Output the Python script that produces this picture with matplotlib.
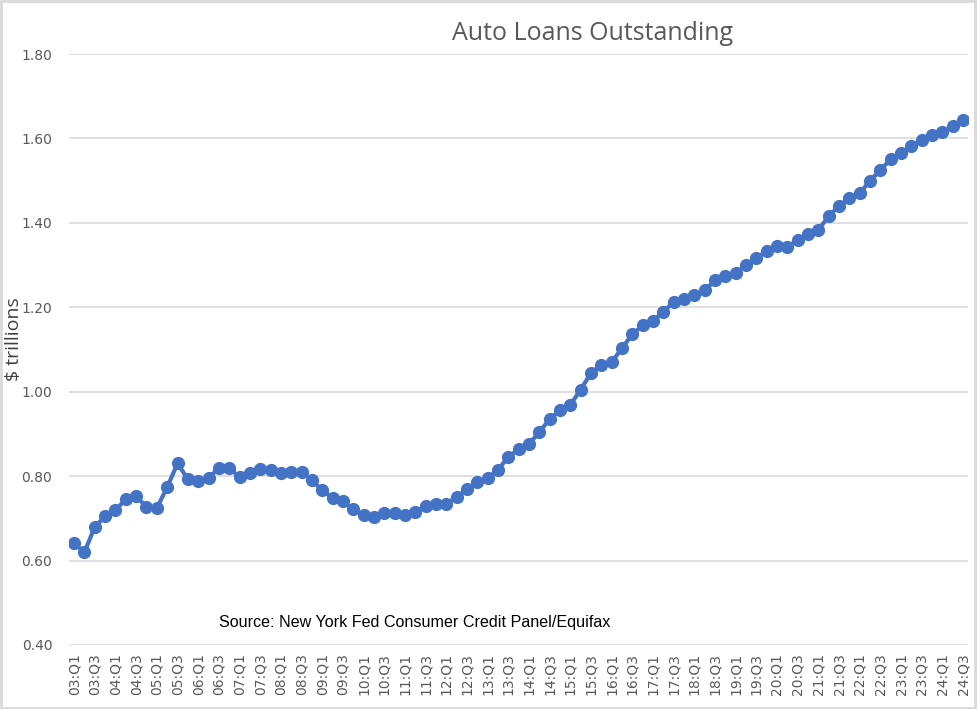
import matplotlib.pyplot as plt
from matplotlib.patches import Rectangle

# quarters 03:Q1 .. 24:Q3
quarters = [f"{y:02d}:Q{q}" for y in range(3, 25) for q in range(1, 5)][:87]

# auto loans outstanding, $ trillions
auto_loans = [
    0.641, 0.620, 0.680, 0.705, 0.720, 0.745, 0.752, 0.727, 0.724, 0.774,
    0.830, 0.793, 0.788, 0.795, 0.820, 0.820, 0.797, 0.808, 0.818, 0.814,
    0.808, 0.810, 0.810, 0.790, 0.767, 0.748, 0.740, 0.722, 0.707, 0.703,
    0.712, 0.712, 0.707, 0.714, 0.730, 0.733, 0.735, 0.750, 0.770, 0.785,
    0.795, 0.815, 0.845, 0.864, 0.876, 0.904, 0.935, 0.956, 0.968, 1.005,
    1.044, 1.063, 1.070, 1.103, 1.136, 1.157, 1.167, 1.190, 1.212, 1.220,
    1.229, 1.240, 1.264, 1.273, 1.281, 1.300, 1.316, 1.333, 1.345, 1.343,
    1.360, 1.373, 1.383, 1.416, 1.440, 1.459, 1.470, 1.500, 1.525, 1.551,
    1.565, 1.582, 1.596, 1.608, 1.615, 1.629, 1.643,
]

y_ticks = [0.40, 0.60, 0.80, 1.00, 1.20, 1.40, 1.60, 1.80]

fig = plt.figure(figsize=(9.77, 7.09), dpi=100)
ax = fig.add_axes([0.0706, 0.0903, 0.9204, 0.8335])

x = list(range(len(auto_loans)))
ax.plot(x, auto_loans, color="#4472C4", linewidth=3, marker="o",
        markersize=8.5, solid_capstyle="round", zorder=3)

ax.set_xlim(-0.5, len(auto_loans) - 0.5)
ax.set_ylim(0.40, 1.80)
ax.set_yticks(y_ticks)
ax.set_yticklabels([f"{v:.2f}" for v in y_ticks], color="#595959", fontsize=10)
ax.set_xticks(x[::2])
ax.set_xticklabels(quarters[::2], rotation=90, color="#595959", fontsize=10)
ax.tick_params(length=0, pad=12)
ax.tick_params(axis="x", pad=6)
ax.grid(axis="y", color="#d9d9d9", linewidth=1.2)
for s in ax.spines.values():
    s.set_visible(False)

fig.text(0.607, 0.953, "Auto Loans Outstanding", ha="center", va="center",
         fontsize=18, color="#595959", family="Open Sans")
fig.text(0.014, 0.522, "$ trillions", rotation=90, ha="center", va="center",
         fontsize=14, color="#404040", family="Open Sans")
fig.text(0.424, 0.1227, "Source: New York Fed Consumer Credit Panel/Equifax",
         ha="center", va="center", fontsize=11.6,
         family="Liberation Sans", color="black")

fig.patches.append(Rectangle((0.001, 0.001), 0.997, 0.997, transform=fig.transFigure,
                             fill=False, edgecolor="#d9d9d9", linewidth=2))

fig.savefig("out.png", dpi=100)
